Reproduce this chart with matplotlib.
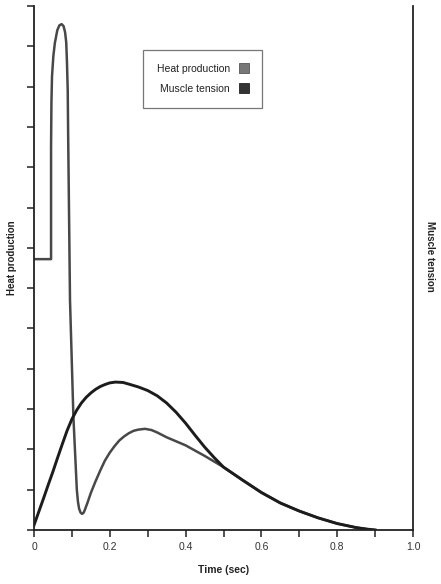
import matplotlib
matplotlib.use("Agg")
import matplotlib.pyplot as plt
from matplotlib.lines import Line2D

# values
heat_t = [0.0, 0.045, 0.045, 0.046, 0.0475, 0.051, 0.055, 0.0615, 0.067, 0.073,
          0.078, 0.082, 0.085, 0.087, 0.089, 0.090, 0.095, 0.104, 0.110, 0.113, 0.116, 0.119,
          0.123, 0.127, 0.131, 0.135, 0.142, 0.150, 0.162, 0.175, 0.187, 0.200, 0.2125,
          0.225, 0.2375, 0.250, 0.2625, 0.275, 0.293, 0.310, 0.325, 0.350, 0.375, 0.400,
          0.425, 0.450, 0.475, 0.500, 0.550, 0.600, 0.650,
          0.700, 0.750, 0.800, 0.850, 0.880, 0.900]
heat_v = [6.72, 6.72, 9.5, 10.6, 11.25, 11.75, 12.08, 12.4, 12.52, 12.55,
          12.5, 12.35, 12.1, 11.6, 10.9, 9.9, 5.7, 2.8, 1.6, 1.0, 0.7, 0.53,
          0.43, 0.40, 0.43, 0.52, 0.70, 0.92, 1.2, 1.48, 1.72, 1.92, 2.08,
          2.22, 2.32, 2.40, 2.46, 2.49, 2.51, 2.48, 2.42, 2.30, 2.20, 2.10,
          1.97, 1.84, 1.70, 1.56, 1.24, 0.93, 0.67,
          0.47, 0.30, 0.16, 0.06, 0.02, 0.0]

tension_t = [0.0, 0.0125, 0.025, 0.0375, 0.05, 0.0625, 0.075, 0.0875, 0.1, 0.1125,
             0.125, 0.1375, 0.15, 0.1625, 0.175, 0.1875, 0.2, 0.215,
             0.235, 0.25, 0.275, 0.3, 0.325, 0.35, 0.375, 0.4, 0.425, 0.45, 0.475,
             0.5, 0.55, 0.6, 0.65, 0.7, 0.75, 0.8, 0.85, 0.88, 0.9]
tension_v = [0.12, 0.45, 0.78, 1.12, 1.45, 1.80, 2.14, 2.47, 2.75, 2.97,
             3.15, 3.29, 3.40, 3.49, 3.56, 3.61, 3.65, 3.67,
             3.66, 3.62, 3.55, 3.46, 3.33, 3.15, 2.92, 2.65, 2.35, 2.06, 1.80,
             1.56, 1.24, 0.93, 0.67, 0.47, 0.30, 0.16, 0.06, 0.02, 0.0]

major_ticks = [0, 0.2, 0.4, 0.6, 0.8, 1.0]
major_labels = ["0", "0.2", "0.4", "0.6", "0.8", "1.0"]
minor_ticks = [0.1, 0.3, 0.5, 0.7, 0.9]
y_ticks = list(range(0, 14))

heat_color = "#484848"
tension_color = "#1c1c1c"

plt.rcParams['font.family'] = ['Liberation Sans', 'DejaVu Sans']

fig = plt.figure(figsize=(4.41, 5.84), dpi=100)
ax = fig.add_axes([34 / 441, 54 / 584, 379 / 441, 524 / 584])

ax.plot(heat_t, heat_v, color=heat_color, lw=1.8, solid_joinstyle='round')
ax.plot(tension_t, tension_v, color=tension_color, lw=2.1, solid_joinstyle='round')

ax.set_xlim(0, 1.0)
ax.set_ylim(0, 13)
ax.set_xticks(major_ticks)
ax.set_xticklabels(major_labels)
ax.set_xticks(minor_ticks, minor=True)
ax.set_yticks(y_ticks)
ax.set_yticklabels([])

ax.tick_params(axis='x', which='both', direction='out', length=5, width=1.1,
               labelsize=7.5, labelcolor='#333333', pad=4, color='#222222')
ax.tick_params(axis='y', which='both', direction='out', length=5, width=1.1,
               color='#222222')

ax.spines['top'].set_visible(False)
for s in ['left', 'right', 'bottom']:
    ax.spines[s].set_linewidth(1.3)
    ax.spines[s].set_color('#222222')

ax.set_xlabel("Time (sec)", fontsize=7.5, fontweight='bold', labelpad=9, color='#222222')
fig.text(12 / 441, 1 - 258 / 584, "Heat production", rotation=90, fontsize=7,
         fontweight='bold', ha='center', va='center', color='#222222')
fig.text(430 / 441, 1 - 256 / 584, "Muscle tension", rotation=270, fontsize=7,
         fontweight='bold', ha='center', va='center', color='#222222')

handles = [
    Line2D([], [], ls='none', marker='s', markersize=6.5, markerfacecolor='#777777',
           markeredgecolor='#555555', markeredgewidth=0.6),
    Line2D([], [], ls='none', marker='s', markersize=6.5, markerfacecolor='#333333',
           markeredgecolor='#222222', markeredgewidth=0.6),
]
leg = ax.legend(handles, ["Heat production", "Muscle tension"], loc='upper left',
                bbox_to_anchor=(0.288, 0.916), borderaxespad=0, markerfirst=False,
                fontsize=7.5, frameon=True, fancybox=False, borderpad=1.3,
                labelspacing=1.0, handlelength=0.9, handletextpad=0.9)
leg.get_frame().set_edgecolor('#555555')
leg.get_frame().set_linewidth(0.9)
for txt in leg.get_texts():
    txt.set_color('#222222')

fig.savefig("out.png", dpi=100)
